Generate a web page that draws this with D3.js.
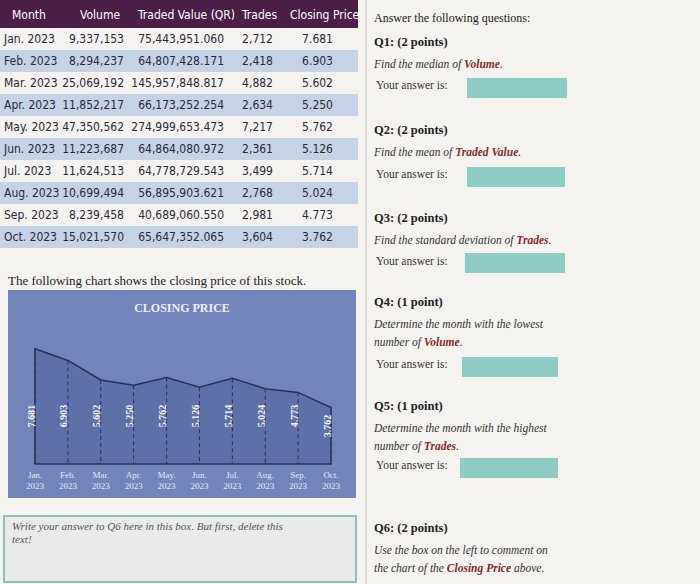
<!DOCTYPE html>
<html><head><meta charset="utf-8">
<script src="https://cdn.jsdelivr.net/npm/d3@7"></script>
<style>
body{margin:0;background:#f4f3ef;}
svg{display:block;}
</style></head>
<body><svg id="page" width="700" height="584"></svg>
<script>
const months = ["Jan. 2023","Feb. 2023","Mar. 2023","Apr. 2023","May. 2023","Jun. 2023","Jul. 2023","Aug. 2023","Sep. 2023","Oct. 2023"];
const volume = ["9,337,153","8,294,237","25,069,192","11,852,217","47,350,562","11,223,687","11,624,513","10,699,494","8,239,458","15,021,570"];
const tradedValue = ["75,443,951.060","64,807,428.171","145,957,848.817","66,173,252.254","274,999,653.473","64,864,080.972","64,778,729.543","56,895,903.621","40,689,060.550","65,647,352.065"];
const trades = ["2,712","2,418","4,882","2,634","7,217","2,361","3,499","2,768","2,981","3,604"];
const closing = [7.681,6.903,5.602,5.250,5.762,5.126,5.714,5.024,4.773,3.762];
const axisMonths = ["Jan.","Feb.","Mar.","Apr.","May.","Jun.","Jul.","Aug.","Sep.","Oct."];

const svg = d3.select("#page");
const serif = "'Liberation Serif', 'DejaVu Serif', serif";
const sans = "'Liberation Sans Narrow', 'DejaVu Sans Condensed', 'Liberation Sans', sans-serif";

// ---- table ----
const cols = [
  {key: "Month", x: 4, anchor: "start", data: months},
  {key: "Volume", x: 124, anchor: "end", data: volume},
  {key: "Traded Value (QR)", x: 224, anchor: "end", data: tradedValue},
  {key: "Trades", x: 273, anchor: "end", data: trades},
  {key: "Closing Price", x: 333, anchor: "end", data: closing.map(d => d.toFixed(3))}
];
const headX = [12, 80, 138, 242, 290];
const rowY = d3.scaleBand().domain(d3.range(months.length)).range([28, 248]);

svg.append("rect").attr("x", 0).attr("y", 0).attr("width", 358).attr("height", 28).attr("fill", "#4b1e47");
svg.selectAll(".stripe").data(d3.range(months.length).filter(i => i % 2 === 1)).enter()
  .append("rect").attr("x", 0).attr("y", i => rowY(i)).attr("width", 358).attr("height", rowY.bandwidth())
  .attr("fill", "#c6d2e6");
cols.forEach((c, ci) => {
  svg.append("text").attr("x", headX[ci]).attr("y", 19).attr("fill", "#fff")
    .attr("font-family", sans).attr("font-size", 12).text(c.key);
  svg.selectAll(null).data(c.data).enter().append("text")
    .attr("x", c.x).attr("y", (d, i) => rowY(i) + 15)
    .attr("text-anchor", c.anchor)
    .attr("font-family", sans).attr("font-size", 12).attr("fill", "#2a2a3a").text(d => d);
});

svg.append("text").attr("x", 8).attr("y", 285).attr("font-family", serif).attr("font-size", 13)
  .attr("fill", "#222").text("The following chart shows the closing price of this stock.");

// ---- chart ----
const cx0 = 8, cy0 = 290, cw = 348, ch = 208;
svg.append("rect").attr("x", cx0).attr("y", cy0).attr("width", cw).attr("height", ch).attr("fill", "#7185ba");
svg.append("text").attr("x", cx0 + cw / 2).attr("y", cy0 + 22).attr("text-anchor", "middle")
  .attr("font-family", serif).attr("font-weight", "bold").attr("font-size", 12).attr("fill", "#eef").text("CLOSING PRICE");

const x = d3.scalePoint().domain(months).range([cx0 + 27, cx0 + 323]);
const y = d3.scaleLinear().domain([0, 10]).range([cy0 + 174, cy0 + 24]);

const area = d3.area().x((d, i) => x(months[i])).y0(y(0)).y1(d => y(d));
svg.append("path").datum(closing).attr("d", area).attr("fill", "#5d70a8")
  .attr("stroke", "#283258").attr("stroke-width", 1.5);

svg.selectAll(".drop").data(closing).enter().append("line")
  .attr("x1", (d, i) => x(months[i])).attr("x2", (d, i) => x(months[i]))
  .attr("y1", d => y(d)).attr("y2", y(0))
  .attr("stroke", "#283258").attr("stroke-dasharray", "4,3");

svg.selectAll(".lab").data(closing).enter().append("text")
  .attr("transform", (d, i) => `translate(${x(months[i]) - 4},${y(0) - 48 + (i === 9 ? 10 : 0)}) rotate(-90)`)
  .attr("text-anchor", "middle").attr("dy", "0.35em")
  .attr("font-family", serif).attr("font-weight", "bold").attr("font-size", 10).attr("fill", "#f4f4ff")
  .text(d => d.toFixed(3));

svg.selectAll(".xm").data(axisMonths).enter().append("text")
  .attr("x", (d, i) => x(months[i])).attr("y", y(0) + 14).attr("text-anchor", "middle")
  .attr("font-family", serif).attr("font-size", 9).attr("fill", "#e4e8f6").text(d => d);
svg.selectAll(".xy").data(months).enter().append("text")
  .attr("x", d => x(d)).attr("y", y(0) + 25).attr("text-anchor", "middle")
  .attr("font-family", serif).attr("font-size", 9).attr("fill", "#e4e8f6").text("2023");

// ---- bottom box ----
svg.append("rect").attr("x", 4).attr("y", 516).attr("width", 352).attr("height", 66)
  .attr("fill", "#e9ebea").attr("stroke", "#8fbfb9").attr("stroke-width", 2);
svg.append("text").attr("x", 12).attr("y", 530).attr("font-family", serif).attr("font-style", "italic")
  .attr("font-size", 11).attr("fill", "#555").text("Write your answer to Q6 here in this box. But first, delete this");
svg.append("text").attr("x", 12).attr("y", 543).attr("font-family", serif).attr("font-style", "italic")
  .attr("font-size", 11).attr("fill", "#555").text("text!");

// ---- right panel ----
svg.append("line").attr("x1", 366).attr("x2", 366).attr("y1", 0).attr("y2", 584).attr("stroke", "#ccc");
const qs = [
  {t: "Q1: (2 points)", y: 46, lines: [["Find the median of ", "Volume", "."]], ans: 89, box: [467, 78, 100]},
  {t: "Q2: (2 points)", y: 134, lines: [["Find the mean of ", "Traded Value", "."]], ans: 178, box: [467, 167, 98]},
  {t: "Q3: (2 points)", y: 222, lines: [["Find the standard deviation of ", "Trades", "."]], ans: 265, box: [465, 253, 100]},
  {t: "Q4: (1 point)", y: 306, lines: [["Determine the month with the lowest", "", ""], ["number of ", "Volume", "."]], ans: 368, box: [462, 357, 96]},
  {t: "Q5: (1 point)", y: 410, lines: [["Determine the month with the highest", "", ""], ["number of ", "Trades", "."]], ans: 469, box: [460, 458, 98]},
  {t: "Q6: (2 points)", y: 532, lines: [["Use the box on the left to comment on", "", ""], ["the chart of the ", "Closing Price", " above."]], ans: null}
];
svg.append("text").attr("x", 374).attr("y", 22).attr("font-family", serif).attr("font-size", 12)
  .attr("fill", "#222").text("Answer the following questions:");
qs.forEach(q => {
  svg.append("text").attr("x", 374).attr("y", q.y).attr("font-family", serif).attr("font-weight", "bold")
    .attr("font-size", 12.5).attr("fill", "#222").text(q.t);
  q.lines.forEach((l, li) => {
    const t = svg.append("text").attr("x", 374).attr("y", q.y + 22 + li * 18).attr("font-family", serif)
      .attr("font-style", "italic").attr("font-size", 11.5).attr("fill", "#333");
    t.append("tspan").text(l[0]);
    t.append("tspan").attr("fill", "#8a2a2a").attr("font-weight", "bold").text(l[1]);
    t.append("tspan").text(l[2]);
  });
  if (q.ans) {
    svg.append("text").attr("x", 376).attr("y", q.ans).attr("font-family", serif).attr("font-size", 11.5)
      .attr("fill", "#333").text("Your answer is:");
    svg.append("rect").attr("x", q.box[0]).attr("y", q.box[1]).attr("width", q.box[2]).attr("height", 20)
      .attr("fill", "#8ecbc3");
  }
});
</script></body></html>
